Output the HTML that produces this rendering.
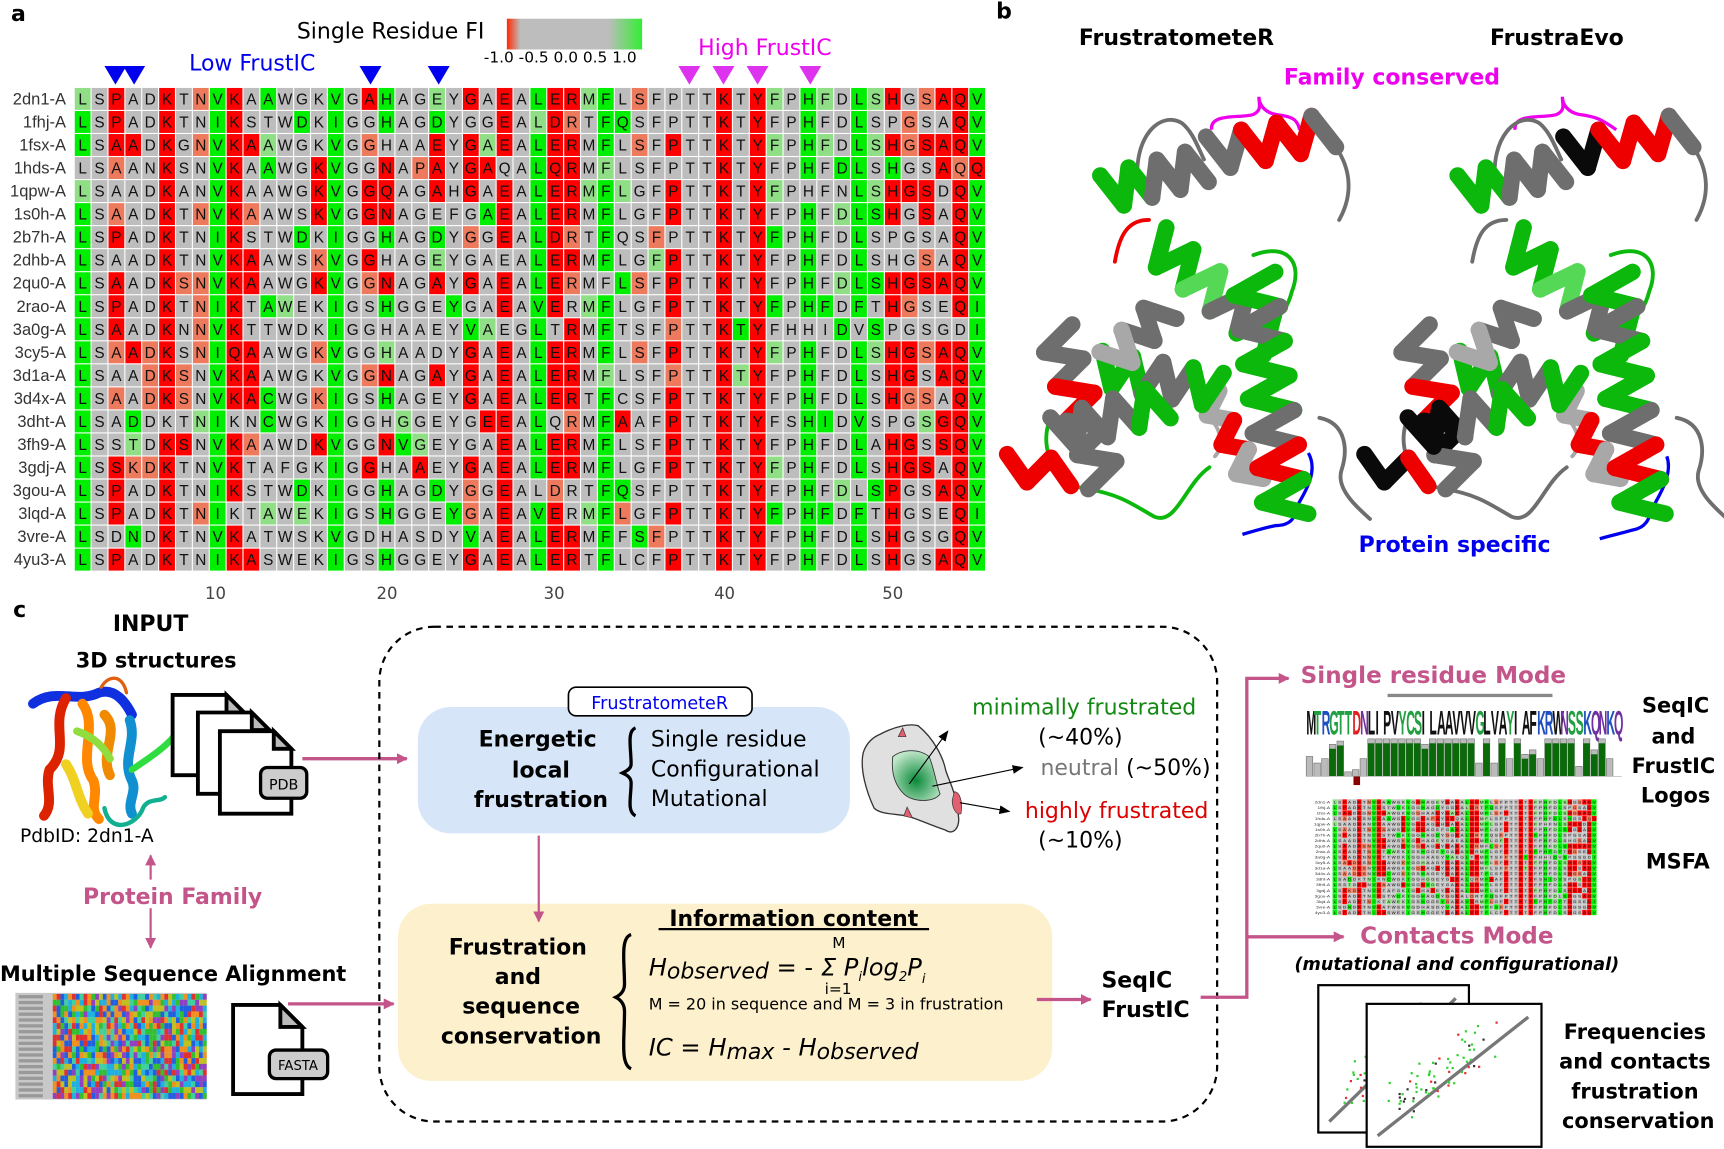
<!DOCTYPE html>
<html><head><meta charset="utf-8">
<style>
html,body{margin:0;padding:0;background:#fff;}
body{width:1724px;height:1149px;overflow:hidden;position:relative;font-family:"DejaVu Sans","Liberation Sans",sans-serif;}
svg{position:absolute;left:0;top:0;}
</style></head>
<body>
<svg id="s" width="1724" height="1149" viewBox="0 0 1568 1045" preserveAspectRatio="none" xmlns="http://www.w3.org/2000/svg" font-family="DejaVu Sans, Liberation Sans, sans-serif">
<defs>
<linearGradient id="cb" x1="0" x2="1" y1="0" y2="0">
<stop offset="0" stop-color="#ff2a00"/><stop offset="0.1" stop-color="#bdbdbd"/><stop offset="0.75" stop-color="#bdbdbd"/><stop offset="1" stop-color="#33ee33"/>
</linearGradient>
<radialGradient id="gg" cx="0.5" cy="0.6" r="0.6"><stop offset="0" stop-color="#0a8a3a"/><stop offset="1" stop-color="#bfe6c8"/></radialGradient>
<marker id="ap" markerWidth="10" markerHeight="10" refX="9" refY="5" orient="auto" markerUnits="userSpaceOnUse"><path d="M0,0 L10,5 L0,10 z" fill="#c4558a"/></marker>
<marker id="ab" markerWidth="10" markerHeight="8" refX="9" refY="4" orient="auto" markerUnits="userSpaceOnUse"><path d="M0,0 L10,4 L0,8 z" fill="#000"/></marker>
<marker id="apr" markerWidth="10" markerHeight="10" refX="1" refY="5" orient="auto" markerUnits="userSpaceOnUse"><path d="M10,0 L0,5 L10,10 z" fill="#c4558a"/></marker>
</defs>

<text x="10" y="19" font-size="20" font-weight="bold">a</text>
<text x="270" y="35" font-size="20">Single Residue FI</text>
<rect x="461" y="17" width="123" height="28" fill="url(#cb)"/>
<text x="440" y="57" font-size="14">-1.0 -0.5 0.0 0.5 1.0</text>
<text x="172" y="64" font-size="20" fill="#0000ee">Low FrustIC</text>
<text x="635" y="50" font-size="20" fill="#ee00ee">High FrustIC</text>
<g fill="#0000ee">
<path d="M95,60 h20 l-10,17 z"/><path d="M112,60 h20 l-10,17 z"/><path d="M327,60 h20 l-10,17 z"/><path d="M389,60 h20 l-10,17 z"/>
</g>
<g fill="#dd33ee">
<path d="M617,60 h20 l-10,17 z"/><path d="M648,60 h20 l-10,17 z"/><path d="M679,60 h20 l-10,17 z"/><path d="M727,60 h20 l-10,17 z"/>
</g>
<g id="cells" font-family="Liberation Sans, sans-serif"></g>
<g font-size="15" fill="#444" text-anchor="middle">
<text x="196" y="545">10</text><text x="352" y="545">20</text><text x="504" y="545">30</text><text x="659" y="545">40</text><text x="812" y="545">50</text>
</g>

<text x="906" y="17" font-size="20" font-weight="bold">b</text>
<text x="1070" y="41" font-size="20" font-weight="bold" text-anchor="middle">FrustratometeR</text>
<text x="1416" y="41" font-size="20" font-weight="bold" text-anchor="middle">FrustraEvo</text>
<text x="1266" y="77" font-size="20" font-weight="bold" fill="#ee00ee" text-anchor="middle">Family conserved</text>
<path d="M1102,118 C1100,102 1130,108 1140,104 C1148,100 1145,95 1145,88 C1145,95 1150,102 1160,104 C1175,106 1180,108 1182,118" fill="none" stroke="#ee00ee" stroke-width="3"/>
<path d="M1378,118 C1376,102 1406,108 1416,104 C1424,100 1421,95 1421,88 C1421,95 1426,102 1436,104 C1451,106 1456,108 1470,118" fill="none" stroke="#ee00ee" stroke-width="3"/>
<path d="M1190,412 C1200,430 1185,450 1180,460 C1178,470 1175,478 1160,478 C1150,480 1140,483 1130,486" fill="none" stroke="#0000ee" stroke-width="3"/>
<path d="M1516,415 C1522,432 1508,452 1503,462 C1500,472 1497,480 1485,482 C1475,485 1465,487 1455,490" fill="none" stroke="#0000ee" stroke-width="3"/>
<text x="1323" y="502" font-size="20" font-weight="bold" fill="#0000ee" text-anchor="middle">Protein specific</text>
<g id="protL"></g>
<g id="protR" transform="translate(325,0)"></g>

<text x="12" y="561" font-size="20" font-weight="bold">c</text>
<text x="137" y="574" font-size="20" font-weight="bold" text-anchor="middle">INPUT</text>
<text x="142" y="607" font-size="19" font-weight="bold" text-anchor="middle">3D structures</text>
<g id="rainbow" fill="none" stroke-width="9" stroke-linecap="round">
<path d="M30,640 C50,625 70,640 90,630 C105,625 115,640 120,650" stroke="#1030e0"/>
<path d="M60,635 C45,660 65,680 45,700 C40,715 50,730 40,742" stroke="#dd2200"/>
<path d="M75,640 C90,660 70,690 85,710 C90,725 80,735 90,745" stroke="#ff8800"/>
<path d="M95,650 C110,665 90,685 100,705" stroke="#f08a00"/>
<path d="M60,695 C70,710 70,725 80,740" stroke="#f0d020"/>
<path d="M70,665 C85,670 95,680 100,690" stroke="#90dd40" stroke-width="7"/>
<path d="M118,655 C125,675 110,690 120,710 C125,720 115,730 120,740" stroke="#1090d0"/>
<path d="M120,700 C135,690 150,680 158,670" stroke="#30dd40" stroke-width="6"/>
<path d="M95,735 C100,760 125,750 130,735 C135,725 145,730 150,725" stroke="#10b090" stroke-width="4"/>
<path d="M92,625 C100,612 112,615 115,630" stroke="#e06010" stroke-width="3"/>
</g>
<g stroke="#000" stroke-width="3.5" fill="#fff">
<path d="M157,632 H206 L222,648 V705 H157 Z"/><path d="M206,632 V648 H222 Z" fill="#bbb"/>
<path d="M180,648 H229 L245,664 V722 H180 Z"/><path d="M229,648 V664 H245 Z" fill="#bbb"/>
<path d="M200,665 H249 L265,681 V740 H200 Z"/><path d="M249,665 V681 H265 Z" fill="#bbb"/>
<rect x="237" y="698" width="42" height="28" rx="6" fill="#ccc" stroke-width="3"/>
</g>
<text x="258" y="718" font-size="13" text-anchor="middle">PDB</text>
<text x="79" y="766" font-size="17" text-anchor="middle">PdbID: 2dn1-A</text>
<line x1="137" y1="778" x2="137" y2="862" stroke="#c4558a" stroke-width="2" marker-end="url(#ap)" marker-start="url(#apr)"/>
<rect x="62" y="800" width="190" height="26" fill="#fff"/>
<text x="157" y="822" font-size="20" font-weight="bold" fill="#c4558a" text-anchor="middle">Protein Family</text>
<text x="0" y="892" font-size="19" font-weight="bold">Multiple Sequence Alignment</text>
<g id="msa"></g>
<g stroke="#000" stroke-width="3.5" fill="#fff">
<path d="M212,914 H255 L275,934 V995 H212 Z"/><path d="M255,914 V934 H275 Z" fill="#bbb"/>
<rect x="245" y="955" width="53" height="26" rx="6" fill="#ccc" stroke-width="3"/>
</g>
<text x="271" y="973" font-size="12" text-anchor="middle">FASTA</text>
<line x1="275" y1="690" x2="370" y2="690" stroke="#c4558a" stroke-width="3" marker-end="url(#ap)"/>
<line x1="262" y1="913" x2="358" y2="913" stroke="#c4558a" stroke-width="3" marker-end="url(#ap)"/>

<rect x="345" y="570" width="762" height="450" rx="50" fill="none" stroke="#000" stroke-width="2" stroke-dasharray="6,5"/>
<rect x="380" y="643" width="393" height="115" rx="30" fill="#d6e6f8"/>
<rect x="517" y="625" width="167" height="26" rx="7" fill="#fff" stroke="#000" stroke-width="1.5"/>
<text x="600" y="645" font-size="16" fill="#0000ee" text-anchor="middle">FrustratometeR</text>
<g font-size="20" font-weight="bold" text-anchor="middle">
<text x="489" y="679">Energetic</text><text x="492" y="707">local</text><text x="492" y="734">frustration</text>
</g>
<path d="M578,662 C570,665 574,680 574,695 C574,700 568,702 566,703 C568,704 574,706 574,712 C574,725 570,738 578,742" fill="none" stroke="#000" stroke-width="3"/>
<g font-size="20"><text x="592" y="679">Single residue</text><text x="592" y="706">Configurational</text><text x="592" y="733">Mutational</text></g>
<path d="M800,668 C815,660 828,658 835,660 C850,672 858,690 860,700 C862,708 870,720 872,745 C872,752 868,760 860,755 C845,750 835,745 825,742 C810,740 800,740 795,735 C788,720 782,700 785,685 C788,675 795,670 800,668 Z" fill="#e0e0e0" stroke="#333" stroke-width="1.2"/>
<path d="M812,688 C820,682 835,680 845,688 C850,700 852,715 855,722 C850,730 830,730 822,722 C815,715 810,705 812,688 Z" fill="url(#gg)" stroke="#333" stroke-width="0.8"/>
<path d="M817,670 l4,-8 l3,8 z" fill="#e06070" stroke="#333" stroke-width="0.6"/>
<path d="M868,720 c5,0 8,10 6,20 c-4,2 -8,-5 -8,-12 z" fill="#e06070" stroke="#333" stroke-width="0.6"/>
<path d="M822,742 l3,-8 l5,10 z" fill="#e06070" stroke="#333" stroke-width="0.6"/>
<line x1="827" y1="713" x2="862" y2="665" stroke="#000" stroke-width="1" marker-end="url(#ab)"/>
<line x1="848" y1="715" x2="930" y2="698" stroke="#000" stroke-width="1" marker-end="url(#ab)"/>
<line x1="873" y1="730" x2="918" y2="738" stroke="#000" stroke-width="1" marker-end="url(#ab)"/>
<text x="1088" y="650" font-size="20" fill="#128a12" text-anchor="end">minimally frustrated</text>
<text x="1021" y="677" font-size="20" text-anchor="end">(~40%)</text>
<text x="1101" y="705" font-size="20" text-anchor="end"><tspan fill="#777">neutral</tspan> (~50%)</text>
<text x="1099" y="744" font-size="20" fill="#dd0000" text-anchor="end">highly frustrated</text>
<text x="1021" y="771" font-size="20" text-anchor="end">(~10%)</text>

<rect x="362" y="822" width="595" height="161" rx="30" fill="#fdf0cc"/>
<line x1="490" y1="760" x2="490" y2="838" stroke="#c4558a" stroke-width="2" marker-end="url(#ap)"/>
<g font-size="20" font-weight="bold" text-anchor="middle">
<text x="471" y="868">Frustration</text><text x="471" y="895">and</text><text x="474" y="922">sequence</text><text x="474" y="949">conservation</text>
</g>
<path d="M574,850 C564,853 568,875 568,895 C568,903 562,906 560,907 C562,908 568,911 568,920 C568,945 564,968 574,972" fill="none" stroke="#000" stroke-width="3"/>
<text x="722" y="842" font-size="20" font-weight="bold" text-anchor="middle">Information content</text>
<line x1="599" y1="845" x2="845" y2="845" stroke="#000" stroke-width="2"/>
<g font-style="italic" font-size="22"><text x="590" y="887">H<tspan font-size="20" dy="3">observed</tspan><tspan dy="-3" font-style="normal"> = - </tspan>Σ P<tspan font-size="12" dy="5">i</tspan><tspan dy="-5">log</tspan><tspan font-size="12" dy="5">2</tspan><tspan dy="-5">P</tspan><tspan font-size="12" dy="7">i</tspan></text></g>
<text x="757" y="862" font-size="14">M</text><text x="750" y="904" font-size="14">i=1</text>
<text x="590" y="918" font-size="14.5">M = 20 in sequence and M = 3 in frustration</text>
<text x="590" y="960" font-size="22" font-style="italic">IC = H<tspan font-size="20" dy="3">max</tspan><tspan dy="-3"> - H</tspan><tspan font-size="20" dy="3">observed</tspan></text>
<line x1="943" y1="909" x2="992" y2="909" stroke="#c4558a" stroke-width="3" marker-end="url(#ap)"/>
<g font-size="20" font-weight="bold" text-anchor="middle"><text x="1034" y="898">SeqIC</text><text x="1042" y="925">FrustIC</text></g>

<path d="M1092,907 H1134 V617 H1172" fill="none" stroke="#c4558a" stroke-width="3" marker-end="url(#ap)"/>
<path d="M1134,852 H1222" fill="none" stroke="#c4558a" stroke-width="3" marker-end="url(#ap)"/>
<text x="1183" y="621" font-size="21" font-weight="bold" fill="#c4558a">Single residue Mode</text>
<g id="logo"></g>
<g font-size="19" font-weight="bold" text-anchor="middle"><text x="1524" y="648">SeqIC</text><text x="1522" y="676">and</text><text x="1522" y="703">FrustIC</text><text x="1524" y="730">Logos</text><text x="1526" y="790">MSFA</text></g>
<use href="#cells" transform="translate(1212,727) scale(0.29,0.24) translate(-68,-80)"/>
<text x="1325" y="858" font-size="21" font-weight="bold" fill="#c4558a" text-anchor="middle">Contacts Mode</text>
<text x="1325" y="882" font-size="16" font-weight="bold" font-style="italic" text-anchor="middle">(mutational and configurational)</text>
<g id="cmaps"></g>
<g font-size="19" font-weight="bold" text-anchor="middle"><text x="1487" y="945">Frequencies</text><text x="1487" y="972">and contacts</text><text x="1487" y="999">frustration</text><text x="1490" y="1026">conservation</text></g>
</svg>
<script>
(function(){
var NS="http://www.w3.org/2000/svg";
function el(t,a,p){var e=document.createElementNS(NS,t);for(var k in a)e.setAttribute(k,a[k]);if(p)p.appendChild(e);return e;}
var labels=["2dn1-A","1fhj-A","1fsx-A","1hds-A","1qpw-A","1s0h-A","2b7h-A","2dhb-A","2qu0-A","2rao-A","3a0g-A","3cy5-A","3d1a-A","3d4x-A","3dht-A","3fh9-A","3gdj-A","3gou-A","3lqd-A","3vre-A","4yu3-A"];
var seqs=["LSPADKTNVKAAWGKVGAHAGEYGAEALERMFLSFPTTKTYFPHFDLSHGSAQV","LSPADKTNIKSTWDKIGGHAGDYGGEALDRTFQSFPTTKTYFPHFDLSPGSAQV","LSAADKGNVKAAWGKVGGHAAEYGAEALERMFLSFPTTKTYFPHFDLSHGSAQV","LSAANKSNVKAAWGKVGGNAPAYGAQALQRMFLSFPTTKTYFPHFDLSHGSAQQ","LSAADKANVKAAWGKVGGQAGAHGAEALERMFLGFPTTKTYFPHFNLSHGSDQV","LSAADKTNVKAAWSKVGGNAGEFGAEALERMFLGFPTTKTYFPHFDLSHGSAQV","LSPADKTNIKSTWDKIGGHAGDYGGEALDRTFQSFPTTKTYFPHFDLSPGSAQV","LSAADKTNVKAAWSKVGGHAGEYGAEALERMFLGFPTTKTYFPHFDLSHGSAQV","LSAADKSNVKAAWGKVGGNAGAYGAEALERMFLSFPTTKTYFPHFDLSHGSAQV","LSPADKTNIKTAWEKIGSHGGEYGAEAVERMFLGFPTTKTYFPHFDFTHGSEQI","LSAADKNNVKTTWDKIGGHAAEYVAEGLTRMFTSFPTTKTYFHHIDVSPGSGDI","LSAADKSNIQAAWGKVGGHAADYGAEALERMFLSFPTTKTYFPHFDLSHGSAQV","LSAADKSNVKAAWGKVGGNAGAYGAEALERMFLSFPTTKTYFPHFDLSHGSAQV","LSAADKSNVKACWGKIGSHAGEYGAEALERTFCSFPTTKTYFPHFDLSHGSAQV","LSADDKTNIKNCWGKIGGHGGEYGEEALQRMFAAFPTTKTYFSHIDVSPGSGQV","LSSTDKSNVKAAWDKVGGNVGEYGAEALERMFLSFPTTKTYFPHFDLAHGSSQV","LSSKDKTNVKTAFGKIGGHAAEYGAEALERMFLGFPTTKTYFPHFDLSHGSAQV","LSPADKTNIKSTWDKIGGHAGDYGGEALDRTFQSFPTTKTYFPHFDLSPGSAQV","LSPADKTNIKTAWEKIGSHGGEYGAEAVERMFLGFPTTKTYFPHFDFTHGSEQI","LSDNDKTNVKATWSKVGDHASDYVAEALERMFFSFPTTKTYFPHFDLSHGSGQV","LSPADKTNIKASWEKIGSHGGEYGAEALERTFLCFPTTKTYFPHFDLSHGSAQV"];
var cols=["g.R..R.rGR.G...G.RG..g.R.R.GRRgG.r....R.Rg.Gg.GgR.rRRG",
"G.R..R..GR...G.G..G..G...R.gRr.GG.....R.R..G..G..r..RG",
"G.RR.R.rGRRg...G.r...R.RgR.GRR.G.r.R..R.Rg.Gg.GgRrRRRG",
"..r..R..GR.G..RG..R.rR.RR..GRR.g......R.R..G.GG.G..RrR",
"g....R..GR....RG.RR..R.R.R.GRRgGg..R..R.Rg....GgRRR.RG",
"G.r..R.rGRr...RG.RR.....GR.GRR.G...R..R.R..G.gGGR.R.RG",
"G.R..R..GR...G.G..G..G.r.R.GRr.G..r...R.RG.G..G.....RG",
"G....R..GRR...rG.R...g.....GRR.G..gR..R.R..G..G...r.RG",
"G.R..RrrGRR...RG.rR..R.R.R.GRr..Gr.R..R.R..G.gGGRRRRRG",
"G.R..R.rGR.Gg..G..G...G..R.GR.gG...R..R.RG.GG.G.Rr..RG",
"G.R..R.rGR.....G.......Gg..G.R.G...r..RGR....G.G.....G",
"G.rRrR.rGRR...rG..g....R.R.GRR.G.r.R..R.Rg.G..GgRRrRRG",
"G...rRr.GRR....G.rR..R.R.R.GRR.g...r..RgR..G..G.RR.RRG",
"G.r.rRr.GRRG..rG..G....R.R.GRR.G...R..R.R..G..G.Rrr.RG",
"G..G...gG..G...G...g....RR.G.r.GR..R..R.R..GG.G...gRRG",
"G..g.RR.GRr...RG..RGg....R.GRR.G...R..R.R..G..G.RR.RRG",
"G.RrrR..GR.....G.R..R..R.R.GRR.G...R..R.Rg.G..G.RRR.RG",
"G.R..R..GR...G.G..G..G.r.R..r..GG.....R.R..G.g.GR..RRG",
"G.R..R.rG..g.g.G..G...Gr.R.GR.gGr..R..R.RG.GG.G.R...RG",
"G..G.R..GR.....G.......G.R.GRR.G.Gr...R.R..G..G.R...RG",
"G.R..R..GRR....G..G....R.R.GRR.G...R..R.R..G..G.R..RRG"];
var pal={'R':'#ff0000','r':'#ee7a5e','G':'#00ee00','g':'#90df86','.':'#bdbdbd'};
var g=document.getElementById('cells');
var x0=68,y0=80,cw=15.35,ch=20.95;
for(var i=0;i<21;i++){
 var y=y0+i*ch;
 el('text',{x:60,y:y+15,'font-size':15,'text-anchor':'end',fill:'#333'},g).textContent=labels[i];
 for(var j=0;j<54;j++){
  var c=cols[i][j]||'.';
  el('rect',{x:x0+j*cw,y:y,width:cw-1,height:ch-1,fill:pal[c]},g);
  var t=el('text',{x:x0+j*cw+cw/2-0.5,y:y+15,'font-size':14,'text-anchor':'middle',fill:'#111'},g);
  t.textContent=seqs[i][j]||'';
 }
}
var m=document.getElementById('msa');
el('rect',{x:14,y:903,width:174,height:97,fill:'#c8c8c8'},m);
var mc=['#2060e0','#20b0e0','#30c030','#f09020','#e03030','#c0c020','#9040c0','#40d0a0'];
var seed=7;function rnd(){seed=(seed*9301+49297)%233280;return seed/233280;}
for(var i=0;i<18;i++){for(var j=0;j<40;j++){el('rect',{x:48+j*3.5,y:904+i*5.3,width:3.5,height:5.3,fill:mc[Math.floor(rnd()*mc.length)]},m);}
 el('rect',{x:17,y:905+i*5.3,width:22,height:3,fill:'#999'},m);}
var lg=document.getElementById('logo');
var letters="MTRGTTDNLIPVYCSILAAVVVGLVAYIAFKRWNSSKQNKQ";
var lc={M:'#111',T:'#20a040',R:'#2050c0',G:'#20a040',D:'#e02020',N:'#7030a0',L:'#111',I:'#111',P:'#111',V:'#111',Y:'#20a040',C:'#20a040',S:'#20a040',A:'#111',F:'#111',K:'#2050c0',W:'#111',Q:'#7030a0'};
var lx=1188,lw=287/letters.length;
for(var k=0;k<letters.length;k++){
 var t=el('text',{x:0,y:0,'font-size':20,'font-weight':'bold','font-family':'Liberation Sans, sans-serif',fill:lc[letters[k]]||'#111',transform:'translate('+(lx+k*lw)+',668) scale(0.55,1.55)'},lg);t.textContent=letters[k];
}
el('rect',{x:1262,y:631,width:150,height:3,fill:'#888'},lg);
var bars=[14,8,12,25,28,0,2,12,30,30,30,30,30,30,30,25,30,30,30,30,30,30,8,30,8,30,12,30,16,20,12,30,30,30,30,5,30,20,30,12];
for(var k=0;k<40;k++){var h=bars[k];var bx=1188+k*7;
 el('rect',{x:bx,y:706-h-4,width:6,height:h+4,fill:'#bbb',stroke:'#666','stroke-width':0.5},lg);
 if(h>15)el('rect',{x:bx,y:706-h,width:6,height:h,fill:'#0a6a0a'},lg);}
el('rect',{x:1231,y:706,width:6,height:8,fill:'#8a0000'},lg);
el('line',{x1:1188,y1:706,x2:1475,y2:706,stroke:'#999','stroke-width':0.5},lg);
var cm=document.getElementById('cmaps');
function cmap(x,y,w,h){
 el('rect',{x:x,y:y,width:w,height:h,fill:'#fff',stroke:'#000','stroke-width':2},cm);
 el('line',{x1:x+10,y1:y+h-10,x2:x+w-12,y2:y+12,stroke:'#777','stroke-width':3},cm);
 for(var n=0;n<70;n++){var u=rnd(),v=rnd()*0.25;var px=x+12+u*(w-24)*0.6+v*(w-24),py=y+h-12-u*(h-24)*0.6-(rnd()*0.3)*(h-24)+10;
  el('rect',{x:px,y:Math.max(y+4,Math.min(y+h-4,py-20)),width:2,height:2,fill:rnd()<0.6?'#30d030':(rnd()<0.5?'#e03030':'#333')},cm);}
}
cmap(1199,896,137,134);cmap(1243,913,159,130);
function helix(p,x1,y1,x2,y2,n,amp,colors,sw){
 var dx=x2-x1,dy=y2-y1,L=Math.sqrt(dx*dx+dy*dy),nx=-dy/L,ny=dx/L;
 var pts=[];for(var i=0;i<=n;i++){var f=i/n;var s=(i%2?1:-1)*amp;pts.push([x1+dx*f+nx*s,y1+dy*f+ny*s]);}
 for(var i=0;i<n;i++){var c=colors[Math.floor(i*colors.length/n)];
  el('line',{x1:pts[i][0],y1:pts[i][1],x2:pts[i+1][0],y2:pts[i+1][1],stroke:c,'stroke-width':sw||15,'stroke-linecap':'round'},p);}
}
function loop(p,d,c,w){el('path',{d:d,fill:'none',stroke:c,'stroke-width':w||3.5,'stroke-linecap':'round'},p);}
var GR='#6e6e6e',GN='#0bb80b',RD='#ee0000',LG='#55d855',BK='#0a0a0a',LGY='#a8a8a8';
function prot(p,evo){
 var b=evo?BK:GR;
 loop(p,'M1035,168 C1030,125 1055,100 1075,112 C1085,120 1090,135 1095,145',GR);
 loop(p,'M1212,130 C1228,150 1232,175 1218,200',GR);
 loop(p,'M1045,200 C1025,200 1018,215 1014,238',evo?GR:RD);
 loop(p,'M958,378 C945,392 950,440 990,445 C1020,450 1032,460 1050,470 C1070,478 1078,440 1100,425',evo?GR:GN);
 loop(p,'M1200,380 C1225,385 1226,410 1220,428 C1215,445 1235,462 1246,472',GR);
 loop(p,'M1140,232 C1172,220 1185,240 1175,265 C1170,285 1160,290 1155,295',GN);
 loop(p,'M1100,380 C1115,395 1110,410 1105,415',LGY);
 helix(p,1100,360,1140,440,6,10,[LGY,RD,LGY]);
 helix(p,960,300,1005,440,9,16,[GR,RD,b,GR]);
 helix(p,1005,175,1095,150,7,16,[GN,GR,GR]);
 helix(p,1100,140,1212,118,7,16,[evo?BK:GR,RD,RD,GR]);
 helix(p,1050,220,1160,310,9,17,[GN,LG,GR,GN]);
 helix(p,1000,335,1110,355,8,16,[GN,GR,GN]);
 helix(p,960,395,1060,365,7,16,[b,GR,GN]);
 helix(p,1140,250,1170,470,14,20,[GN,GR,GN,GN,GR,RD,GN]);
 helix(p,1060,280,1010,330,5,14,[GR,LGY]);
 helix(p,915,425,975,430,3,12,[evo?BK:RD,RD]);
}
prot(document.getElementById('protL'),false);
prot(document.getElementById('protR'),true);
})();
</script>
</body></html>
